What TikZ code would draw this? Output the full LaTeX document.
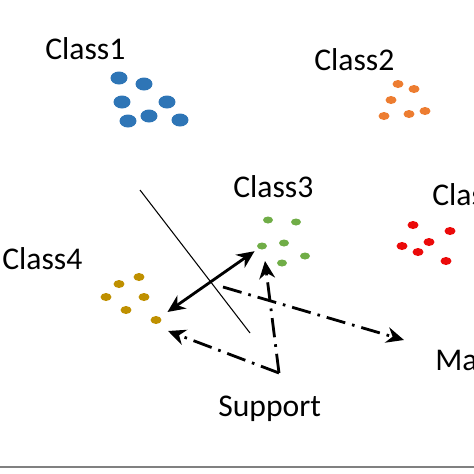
\documentclass[tikz,border=0pt]{standalone}
\usepackage{fontspec}
\setmainfont{Carlito}
\usepackage{tikz}
\usetikzlibrary{arrows.meta,shapes,positioning}
\usepackage{xcolor}
\definecolor{clblue}{RGB}{46,117,182}
\definecolor{clorange}{RGB}{237,125,49}
\definecolor{clgreen}{RGB}{112,173,71}
\definecolor{clgold}{RGB}{191,144,0}
\definecolor{clred}{RGB}{235,10,10}
\tikzstyle{dotbig} = [ellipse, inner sep=0, minimum width=0.34cm, minimum height=0.26cm]
\tikzstyle{dotsmall} = [ellipse, inner sep=0, minimum width=0.22cm, minimum height=0.16cm]
\tikzstyle{classname} = [anchor=base west, inner sep=0, font=\fontsize{18}{20}\selectfont]
\tikzstyle{arrow} = [line width=1.6pt, {Stealth[length=10pt,width=9pt]}-{Stealth[length=10pt,width=9pt]}]
\tikzstyle{dasharrow} = [line width=1.6pt, -{Stealth[length=10pt,width=9pt]}, dash pattern=on 11pt off 4pt on 1.5pt off 4pt]

\begin{document}
\begin{tikzpicture}[x=0.02cm, y=-0.02cm]
\useasboundingbox (0,0) rectangle (474,474);
\clip (0,0) rectangle (474,474);
% class names
\node[classname] (c1) at (45,59) {Class1};
\node[classname] (c2) at (314,70) {Class2};
\node[classname] (c3) at (233,197) {Class3};
\node[classname] (c4) at (2,269) {Class4};
\node[classname] (c5) at (432,205) {Class5};
\node[classname] (sp) at (218,416) {Support};
\node[classname] (mg) at (435,370) {Margin};
% class 1
\node[dotbig, fill=clblue] (b1) at (119,78) {};
\node[dotbig, fill=clblue] (b2) at (144,84) {};
\node[dotbig, fill=clblue] (b3) at (122,102) {};
\node[dotbig, fill=clblue] (b4) at (167,102) {};
\node[dotbig, fill=clblue] (b5) at (128,121) {};
\node[dotbig, fill=clblue] (b6) at (149,116) {};
\node[dotbig, fill=clblue] (b7) at (180,120) {};
% class 2
\node[dotsmall, fill=clorange] (o1) at (398,84) {};
\node[dotsmall, fill=clorange] (o2) at (414,89) {};
\node[dotsmall, fill=clorange] (o3) at (391,100) {};
\node[dotsmall, fill=clorange] (o4) at (384,116) {};
\node[dotsmall, fill=clorange] (o5) at (409,114) {};
\node[dotsmall, fill=clorange] (o6) at (425,111) {};
% class 3
\node[dotsmall, fill=clgreen, minimum width=0.2cm, minimum height=0.14cm] (g1) at (268,220) {};
\node[dotsmall, fill=clgreen, minimum width=0.2cm, minimum height=0.14cm] (g2) at (296,222) {};
\node[dotsmall, fill=clgreen, minimum width=0.2cm, minimum height=0.14cm] (g3) at (262,246) {};
\node[dotsmall, fill=clgreen, minimum width=0.2cm, minimum height=0.14cm] (g4) at (284,243) {};
\node[dotsmall, fill=clgreen, minimum width=0.2cm, minimum height=0.14cm] (g5) at (282,263) {};
\node[dotsmall, fill=clgreen, minimum width=0.2cm, minimum height=0.14cm] (g6) at (305,256) {};
% class 4
\node[dotsmall, fill=clgold] (y1) at (139,277) {};
\node[dotsmall, fill=clgold] (y2) at (119,284) {};
\node[dotsmall, fill=clgold] (y3) at (106,297) {};
\node[dotsmall, fill=clgold] (y4) at (144,297) {};
\node[dotsmall, fill=clgold] (y5) at (126,310) {};
\node[dotsmall, fill=clgold] (y6) at (156,320) {};
% class 5
\node[dotsmall, fill=clred] (r1) at (413,225) {};
\node[dotsmall, fill=clred] (r2) at (450,231) {};
\node[dotsmall, fill=clred] (r3) at (402,246) {};
\node[dotsmall, fill=clred] (r4) at (429,242) {};
\node[dotsmall, fill=clred] (r5) at (418,252) {};
\node[dotsmall, fill=clred] (r6) at (446,261) {};
% hyperplane
\coordinate (h1) at (140,190);
\coordinate (h2) at (250,333);
\draw[line width=0.6pt] (h1) -- (h2);
% support and margin
\coordinate (apex) at (279,373);
\coordinate (t3) at (265,261);
\coordinate (t4) at (168,331);
\coordinate (m0) at (223,287);
\coordinate (tm) at (404,340);
\draw[arrow, shorten <=5pt, shorten >=2.5pt] (y6) -- (g3);
\draw[dasharrow] (apex) -- (t4);
\draw[dasharrow] (apex) -- (t3);
\draw[dasharrow] (m0) -- (tm);
\draw[line width=1.2pt, gray] (0,467) -- (474,467);
\end{tikzpicture}
\end{document}
